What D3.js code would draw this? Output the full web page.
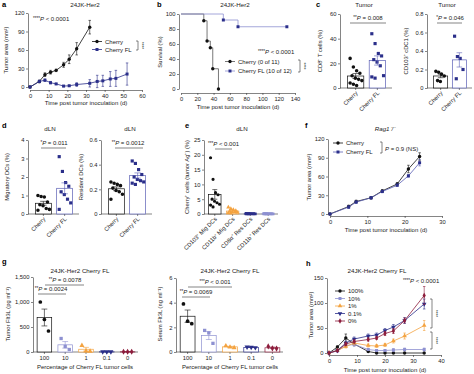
<!DOCTYPE html>
<html>
<head>
<meta charset="utf-8">
<script src="https://cdnjs.cloudflare.com/ajax/libs/d3/7.8.5/d3.min.js"></script>
<style>
body { margin: 0; background: #fff; }
svg { font-family: "Liberation Sans", Arial, sans-serif; }
.axis path, .axis line { stroke: #333; stroke-width: 0.6; }
.axis text { font-size: 5.8px; fill: #222; }
</style>
</head>
<body>
<svg width="474" height="374"></svg>
<script>
// ---- data ----
// a: tumor growth
const aCherryDays = [0, 5, 8, 11, 14, 18, 21, 25, 32];
const aCherryArea = [0, 9, 20, 24, 27, 36, 45, 62, 97];
const aCherryErr  = [0, 2, 3, 3, 2, 4, 7, 10, 11];
const aFLDays = [0, 5, 8, 11, 14, 18, 21, 25, 32, 36, 39, 43, 46, 52];
const aFLArea = [0, 9, 11, 7, 5, 1.5, 2, 4, 6, 9, 10, 13, 14, 21];
const aFLErr  = [0, 2, 2, 2, 1, 1, 1, 3, 6, 10, 9, 12, 13, 18];

// b: survival
const bCherryDays = [0, 28, 32, 36, 39, 46];
const bCherrySurv = [100, 91, 64, 55, 27, 0];
const bFLDays = [0, 52, 70, 130];
const bFLSurv = [100, 92, 83, 83];

// c, d: bar + dots
const groups = ["Cherry", "Cherry FL"];
const cCD8 = [[24, 17, 14, 12, 10, 8, 7, 6, 4, 3, 2], [44, 36, 28, 26, 23, 21, 18, 10, 9, 8]];
const cCD103 = [[0.18, 0.17, 0.15, 0.13, 0.08, 0.07], [0.56, 0.34, 0.32, 0.2, 0.1]];
const dMig = [[1.0, 0.95, 0.92, 0.65, 0.5, 0.45, 0.3, 0.25, 0.2], [3.1, 2.3, 1.7, 1.5, 1.2, 1.05, 0.8, 0.6, 0.25]];
const dRes = [[0.26, 0.25, 0.24, 0.23, 0.21, 0.19, 0.18, 0.16, 0.12], [0.43, 0.41, 0.36, 0.32, 0.3, 0.28, 0.27, 0.26, 0.25, 0.24]];

// e
const eCats = ["CD103⁺ Mig DCs", "CD11b⁺ Mig DCs", "CD8α⁺ Res DCs", "CD11b⁺ Res DCs"];
const eVals = [
  [19, 11.7, 7.2, 6.5, 5, 4.3, 3.8, 3.3, 3, 2.4],
  [2.3, 1.8, 1.4, 1.1, 0.9, 0.7, 0.6, 0.5, 0.4, 0.3],
  [0.2, 0.15, 0.12, 0.1, 0.1, 0.08, 0.06, 0.05, 0.05, 0.04],
  [0.15, 0.12, 0.1, 0.09, 0.08, 0.07, 0.05, 0.04, 0.03, 0.03]
];

// f: Rag1-/-
const fDays = [0, 5, 7, 11, 14, 18, 21, 24];
const fCherry = [0, 12, 20, 26, 37, 48, 72, 92];
const fCherryErr = [0, 2, 2, 2, 2, 2, 6, 6];
const fFL = [0, 11, 19, 26, 36, 46, 61, 82];
const fFLErr = [0, 2, 2, 2, 2, 2, 2, 5];

// g: Flt3L
const pctLabels = ["100", "10", "1", "0.1", "0"];
const gTumor = [[1000, 650, 420], [270, 110, 50], [130, 20, 15], [5, 5, 5], [5, 5, 5]];
const gSerum = [[3.9, 2.5, 2.3], [1.75, 1.55, 0.7], [0.5, 0.4, 0.35], [0.4, 0.38, 0.35], [0.45, 0.3, 0.28]];

// h: mixtures
const hDays = [0, 3, 6, 9, 14, 17, 20, 23, 27, 34];
const hNames = ["100%", "10%", "1%", "0.1%", "0%"];
const hMeans = [
  [0, 12, 30, 18, 3, 0, 0, 0, 0, 0],
  [0, 4, 15, 17, 7, 5, 5, 6, 7, 7],
  [0, 5, 13, 20, 15, 14, 16, 24, 34, 55],
  [0, 5, 20, 28, 34, 36, 45, 52, 65, 98],
  [0, 5, 18, 23, 27, 30, 39, 44, 65, 115]
];
const hErrs = [
  [0, 2, 8, 3, 1, 0, 0, 0, 0, 0],
  [0, 2, 4, 4, 2, 2, 2, 3, 3, 3],
  [0, 2, 3, 4, 3, 3, 3, 4, 6, 10],
  [0, 2, 4, 4, 4, 4, 4, 5, 6, 10],
  [0, 2, 3, 3, 3, 3, 4, 5, 5, 18]
];

const col = { black: "#111", navy: "#2b2f8a", peri: "#8e91d1", orange: "#f4a340", red: "#8d1d3c", gray: "#555", flLine: "#5b5fb5" };

const svg = d3.select("svg");

// ---- helpers ----
function txt(x, y, s, size, anchor, extra) {
  const t = svg.append("text").attr("x", x).attr("y", y).attr("text-anchor", anchor || "middle")
    .style("font-size", (size || 6) + "px").attr("fill", "#222").text(s);
  if (extra) extra(t);
  return t;
}
function ylab(x, y, s) {
  svg.append("text").attr("transform", `translate(${x},${y}) rotate(-90)`).attr("text-anchor", "middle")
    .style("font-size", "5.8px").attr("fill", "#222").text(s);
}
function letter(x, y, s) { txt(x, y, s, 7.5, "start", t => t.style("font-weight", "bold").attr("fill", "#000")); }
function pText(x, y, stars, rest, anchor) {
  const t = svg.append("text").attr("x", x).attr("y", y).attr("text-anchor", anchor || "middle")
    .style("font-size", "6px").attr("fill", "#222");
  t.append("tspan").text(stars).style("font-size", "4.5px").attr("dy", -1);
  t.append("tspan").text("P").style("font-style", "italic").attr("dy", 1);
  t.append("tspan").text(rest);
}
function hline(x1, x2, y) {
  svg.append("line").attr("x1", x1).attr("x2", x2).attr("y1", y).attr("y2", y).attr("stroke", "#333").attr("stroke-width", 0.6);
}
function bracket(x, y1, y2, stars) {
  svg.append("path").attr("d", `M${x - 2},${y1}H${x}V${y2}H${x - 2}`).attr("fill", "none").attr("stroke", "#333").attr("stroke-width", 0.6);
  if (stars) svg.append("text").attr("transform", `translate(${x + 2},${(y1 + y2) / 2}) rotate(90)`)
    .attr("text-anchor", "middle").style("font-size", "4.5px").attr("fill", "#222").text(stars);
}
function yAxis(x, scale, ticks, fmt) {
  return svg.append("g").attr("class", "axis").attr("transform", `translate(${x},0)`)
    .call(d3.axisLeft(scale).tickValues(ticks).tickSize(2).tickSizeOuter(0).tickPadding(1.5).tickFormat(fmt || d3.format("")));
}
function xAxis(y, scale, ticks, fmt) {
  return svg.append("g").attr("class", "axis").attr("transform", `translate(0,${y})`)
    .call(d3.axisBottom(scale).tickValues(ticks).tickSize(2).tickSizeOuter(0).tickPadding(1.5).tickFormat(fmt || d3.format("")));
}
const symbols = { circle: d3.symbolCircle, square: d3.symbolSquare, triangle: d3.symbolTriangle, down: d3.symbolTriangle, diamond: d3.symbolDiamond };
function mark(g, type, x, y, size, color) {
  g.append("path").attr("d", d3.symbol(symbols[type], size)())
    .attr("transform", `translate(${x},${y})` + (type === "down" ? " rotate(180)" : ""))
    .attr("fill", color);
}
function errBar(g, x, y0, y1, w, color) {
  g.append("path").attr("d", `M${x},${y0}V${y1}M${x - w / 2},${y0}H${x + w / 2}M${x - w / 2},${y1}H${x + w / 2}`)
    .attr("fill", "none").attr("stroke", color).attr("stroke-width", 0.6);
}
function series(xS, yS, xs, ys, errs, color, type, size, lineColor) {
  const g = svg.append("g");
  xs.forEach((d, i) => { if (errs && errs[i] > 0) errBar(g, xS(d), yS(ys[i] - errs[i]), yS(ys[i] + errs[i]), 2.5, lineColor || color); });
  g.append("path").datum(d3.zip(xs, ys)).attr("d", d3.line().x(d => xS(d[0])).y(d => yS(d[1])))
    .attr("fill", "none").attr("stroke", lineColor || color).attr("stroke-width", 0.8);
  xs.forEach((d, i) => mark(g, type, xS(d), yS(ys[i]), size, color));
}
function legendItem(x, y, label, color, type, lineColor, size) {
  const g = svg.append("g");
  g.append("line").attr("x1", x).attr("x2", x + 10).attr("y1", y).attr("y2", y).attr("stroke", lineColor || color).attr("stroke-width", 0.8);
  mark(g, type, x + 5, y, size || 9, color);
  txt(x + 13, y + 2, label, 6, "start");
}
function jit(j, n, bw) {
  if (n <= 3) return (j - (n - 1) / 2) * bw * 0.28;
  return ((j % 4) - 1.5) * bw * 0.2 + (Math.floor(j / 4) % 2 ? bw * 0.08 : -bw * 0.04);
}
function barDots(o) {
  const x = d3.scaleBand().domain(o.cats).range(o.xr).paddingInner(o.pi != null ? o.pi : 0.25).paddingOuter(o.po != null ? o.po : 0.3);
  const y = d3.scaleLinear().domain(o.yd).range(o.yr);
  yAxis(o.xr[0] - 1, y, o.ticks, o.fmt);
  const xa = svg.append("g").attr("class", "axis").attr("transform", `translate(0,${o.yr[0]})`)
    .call(d3.axisBottom(x).tickSize(2).tickSizeOuter(0).tickPadding(1.5).tickFormat((d, i) => o.labels ? o.labels[i] : d));
  xa.select(".domain").attr("d", `M${o.xr[0] - 1},0H${o.xr[1]}`);
  if (o.rotate) xa.selectAll("text").attr("x", 0).attr("y", 0).attr("dy", "0.35em")
    .attr("transform", "translate(1,4) rotate(-45)").style("text-anchor", "end");
  const bw = x.bandwidth();
  const g = svg.append("g");
  o.cats.forEach((c, i) => {
    const v = o.vals[i], m = d3.mean(v), se = d3.deviation(v) / Math.sqrt(v.length);
    const cx = x(c) + bw / 2;
    g.append("rect").attr("x", x(c)).attr("y", y(m)).attr("width", bw).attr("height", y(0) - y(m))
      .attr("fill", "#fff").attr("stroke", o.barColors[i]).attr("stroke-width", 0.7);
    v.forEach((d, j) => mark(g, o.types[i], cx + jit(j, v.length, bw), y(d), o.size || 10, o.colors[i]));
    errBar(g, cx, y(m - se), y(m + se), bw * 0.4, o.barColors[i]);
  });
  return { x, y };
}

// ---- panel a ----
letter(2, 7, "a");
txt(85, 7, "24JK-Her2", 6.2);
const xa = d3.scaleLinear().domain([0, 60]).range([30, 142]);
const ya = d3.scaleLinear().domain([0, 120]).range([87, 13]);
yAxis(28, ya, [0, 30, 60, 90, 120]);
xAxis(90, xa, [0, 10, 20, 30, 40, 50, 60]);
ylab(8, 50, "Tumor area (mm²)");
txt(86, 105, "Time post tumor inoculation (d)");
series(xa, ya, aCherryDays, aCherryArea, aCherryErr, col.black, "circle", 9);
series(xa, ya, aFLDays, aFLArea, aFLErr, col.navy, "square", 9);
pText(33, 21, "****", " < 0.0001", "start");
legendItem(92, 41.5, "Cherry", col.black, "circle");
legendItem(92, 49.5, "Cherry FL", col.navy, "square");
bracket(138, 41, 50, "****");

// ---- panel b ----
letter(157, 7, "b");
txt(235, 7, "24JK-Her2", 6.2);
const xb = d3.scaleLinear().domain([0, 140]).range([181, 295]);
const yb = d3.scaleLinear().domain([0, 100]).range([89, 14]);
yAxis(179, yb, [0, 20, 40, 60, 80, 100]);
xAxis(93, xb, [0, 20, 40, 60, 80, 100, 120, 140]);
ylab(162, 52, "Survival (%)");
txt(238, 109, "Time post tumor inoculation (d)");
function km(days, surv, color, lineColor, type) {
  const g = svg.append("g");
  g.append("path").datum(d3.zip(days, surv))
    .attr("d", d3.line().curve(d3.curveStepAfter).x(d => xb(d[0])).y(d => yb(d[1])))
    .attr("fill", "none").attr("stroke", lineColor).attr("stroke-width", 0.8);
  days.forEach((d, i) => { if (i > 0) mark(g, type, xb(d), yb(surv[i]), 9, color); });
}
km(bCherryDays, bCherrySurv, col.black, col.gray, "circle");
km(bFLDays, bFLSurv, col.navy, col.peri, "square");
pText(258, 54, "****", " < 0.0001", "start");
legendItem(225, 61.5, "Cherry (0 of 11)", col.black, "circle", col.gray);
legendItem(225, 71, "Cherry FL (10 of 12)", col.navy, "square", col.peri);
bracket(300, 60, 72, "****");

// ---- panel c ----
letter(316, 7, "c");
txt(364, 7, "Tumor", 6.2);
txt(447, 7, "Tumor", 6.2);
barDots({ cats: groups, vals: cCD8, xr: [341, 392], yd: [0, 60], yr: [88, 14], ticks: [0, 20, 40, 60],
  colors: [col.black, col.navy], barColors: [col.black, col.flLine], types: ["circle", "square"], rotate: true });
ylab(322, 51, "CD8⁺ T cells (%)");
pText(368, 20, "**", " = 0.008");
hline(350, 386, 23);
barDots({ cats: groups, vals: cCD103, xr: [428, 472], yd: [0, 0.8], yr: [88, 14], ticks: [0, 0.2, 0.4, 0.6, 0.8],
  fmt: d => d === 0 ? "0" : d3.format(".1f")(d),
  colors: [col.black, col.navy], barColors: [col.black, col.flLine], types: ["circle", "square"], rotate: true });
ylab(408, 51, "CD103⁺ cDC1 (%)");
pText(450, 20, "*", " = 0.046");
hline(437, 462, 23);

// ---- panel d ----
letter(2, 128, "d");
txt(50, 131, "dLN", 6.2);
txt(130, 131, "dLN", 6.2);
barDots({ cats: groups, vals: dMig, xr: [29, 79], yd: [0, 4], yr: [214, 140], ticks: [0, 1, 2, 3, 4],
  colors: [col.black, col.navy], barColors: [col.black, col.flLine], types: ["circle", "square"], rotate: true });
ylab(9, 177, "Migratory DCs (%)");
pText(54, 145, "*", " = 0.011");
hline(41, 66, 148);
barDots({ cats: groups, vals: dRes, xr: [102, 152], yd: [0, 0.6], yr: [214, 140], ticks: [0, 0.2, 0.4, 0.6],
  fmt: d => d === 0 ? "0" : d3.format(".1f")(d),
  colors: [col.black, col.navy], barColors: [col.black, col.flLine], types: ["circle", "square"], rotate: true });
ylab(83, 177, "Resident DCs (%)");
pText(128, 145, "**", " = 0.0012");
hline(115, 143, 148);

// ---- panel e ----
letter(185, 128, "e");
txt(242, 131, "dLN", 6.2);
barDots({ cats: eCats, vals: eVals, xr: [205, 278], yd: [0, 25], yr: [214, 140], ticks: [0, 5, 10, 15, 20, 25],
  pi: 0.3, po: 0.2,
  colors: [col.black, col.orange, col.navy, col.peri], barColors: [col.black, col.orange, col.navy, col.peri],
  types: ["circle", "triangle", "square", "square"], size: 8, rotate: true });
ylab(189, 177, "Cherry⁺ cells (tumor Ag⁺) (%)");
pText(208, 146, "***", " < 0.001", "start");
hline(215, 232, 149);

// ---- panel f ----
letter(305, 128, "f");
txt(385, 131, "Rag1⁻/⁻", 6.2, "middle", t => t.style("font-style", "italic"));
const xf = d3.scaleLinear().domain([0, 30]).range([330, 442]);
const yf = d3.scaleLinear().domain([0, 120]).range([214, 139]);
yAxis(328, yf, [0, 30, 60, 90, 120]);
xAxis(216, xf, [0, 10, 20, 30]);
ylab(311, 177, "Tumor area (mm²)");
txt(386, 232, "Time post tumor inoculation (d)");
series(xf, yf, fDays, fCherry, fCherryErr, col.black, "circle", 9);
series(xf, yf, fDays, fFL, fFLErr, col.navy, "square", 9, col.flLine);
legendItem(333, 143, "Cherry", col.black, "circle");
legendItem(333, 152, "Cherry FL", col.navy, "square", col.flLine);
bracket(382, 142, 153);
pText(385, 150, "", " = 0.9 (NS)", "start");

// ---- panel g ----
letter(2, 264, "g");
txt(80, 273, "24JK-Her2 Cherry FL", 6.2);
txt(230, 273, "24JK-Her2 Cherry FL", 6.2);
const gColors = [col.black, col.peri, col.orange, col.navy, col.red];
const gTypes = ["circle", "square", "triangle", "down", "diamond"];
barDots({ cats: pctLabels, vals: gTumor, xr: [34, 138], yd: [0, 1500], yr: [352, 277], ticks: [0, 500, 1000, 1500],
  fmt: d3.format(","), pi: 0.3, po: 0.15, colors: gColors, barColors: gColors, types: gTypes, size: 11 });
ylab(10, 314, "Tumor Flt3L (pg ml⁻¹)");
txt(85, 369, "Percentage of Cherry FL tumor cells");
pText(65, 282, "**", " = 0.0078");
hline(45, 84, 285);
pText(51, 291, "**", " = 0.0024");
hline(38, 66, 294);
barDots({ cats: pctLabels, vals: gSerum, xr: [177, 283], yd: [0, 6], yr: [352, 278], ticks: [0, 2, 4, 6],
  pi: 0.3, po: 0.15, colors: gColors, barColors: gColors, types: gTypes, size: 11 });
ylab(162, 314, "Serum Flt3L (ng ml⁻¹)");
txt(230, 369, "Percentage of Cherry FL tumor cells");
pText(215, 284, "***", " < 0.001");
hline(188, 232, 287);
pText(196, 294, "**", " = 0.0069");
hline(182, 210, 297);

// ---- panel h ----
letter(306, 266, "h");
txt(377, 273, "24JK-Her2 Cherry FL", 6.2);
const xh = d3.scaleLinear().domain([0, 40]).range([329, 441]);
const yh = d3.scaleLinear().domain([0, 150]).range([353, 278]);
yAxis(327, yh, [0, 50, 100, 150]);
xAxis(355, xh, [0, 10, 20, 30, 40]);
ylab(313, 315, "Tumor area (mm²)");
txt(385, 372, "Time post tumor inoculation (d)");
hNames.forEach((n, i) => {
  series(xh, yh, hDays, hMeans[i], hErrs[i], gColors[i], gTypes[i], 9);
  legendItem(335, 291 + i * 7.5, n, gColors[i], gTypes[i]);
});
pText(403, 283, "****", " < 0.0001", "start");
bracket(432, 299, 328, "****");
bracket(432, 332, 349, "****");
</script>
</body>
</html>
